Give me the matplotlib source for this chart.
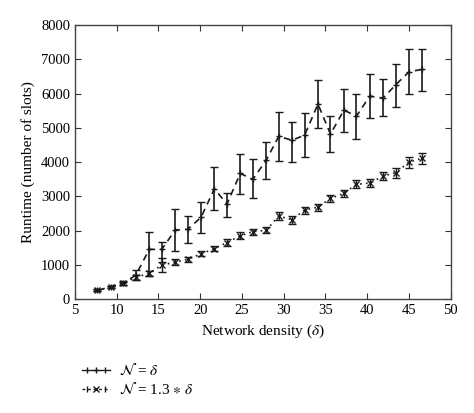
import matplotlib
matplotlib.use("Agg")
import matplotlib.pyplot as plt
from matplotlib.lines import Line2D
from matplotlib.legend_handler import HandlerLine2D, HandlerTuple

# network density values (x)
density = [7.7, 9.3, 10.8, 12.3, 13.9, 15.4, 17.0, 18.5, 20.1, 21.7, 23.2, 24.8, 26.3,
           27.9, 29.4, 31.0, 32.5, 34.1, 35.6, 37.2, 38.7, 40.3, 41.9, 43.4, 45.0, 46.5]

# N = delta : mean runtime with lower / upper ends of the error bars
run_a = [250, 360, 460, 700, 1450, 1450, 2015, 2035, 2385, 3221, 2774, 3670, 3494,
         4058, 4750, 4640, 4788, 5693, 4818, 5518, 5343, 5927, 5869, 6257, 6638, 6706]
run_a_lo = [220, 330, 400, 555, 672, 1090, 1410, 1645, 1936, 2598, 2404, 3066, 2940,
            3494, 4030, 3990, 4155, 5000, 4301, 4885, 4681, 5285, 5334, 5606, 5985, 6082]
run_a_hi = [280, 390, 520, 847, 1965, 1680, 2620, 2423, 2842, 3845, 3086, 4234, 4078,
            4594, 5450, 5177, 5420, 6385, 5343, 6122, 5985, 6560, 6414, 6852, 7290, 7308]

# N = 1.3 * delta : mean runtime and half width of error bar
run_b = [250, 360, 460, 633, 750, 990, 1075, 1158, 1320, 1470, 1650, 1845, 1970,
         2005, 2423, 2316, 2598, 2685, 2940, 3086, 3350, 3387, 3591, 3688, 4000, 4108]
run_b_err = [30, 30, 50, 70, 80, 200, 80, 80, 70, 80, 90, 100, 90,
             90, 110, 110, 100, 100, 110, 100, 120, 120, 120, 150, 160, 150]

xticks = [5, 10, 15, 20, 25, 30, 35, 40, 45, 50]
yticks = [0, 1000, 2000, 3000, 4000, 5000, 6000, 7000, 8000]

plt.rcParams["font.family"] = ["Liberation Serif", "DejaVu Serif"]
plt.rcParams["mathtext.fontset"] = "stix"

ink = "#1a1a1a"

fig = plt.figure(figsize=(4.74, 4.13), dpi=100)
ax = fig.add_axes([0.158, 0.276, 0.793, 0.663])

err_a = [[m - lo for m, lo in zip(run_a, run_a_lo)],
         [hi - m for m, hi in zip(run_a, run_a_hi)]]

ax.errorbar(density, run_a, yerr=err_a, color=ink, ecolor=ink,
            linestyle=(0, (4, 3)), linewidth=1.2, elinewidth=1.2,
            marker="+", markersize=5, capsize=3, capthick=1.0)
ax.errorbar(density, run_b, yerr=run_b_err, color=ink, ecolor=ink,
            linestyle=(0, (1, 2.5)), linewidth=1.2, elinewidth=1.0,
            marker="x", markersize=4, capsize=3, capthick=1.0)

ax.set_xlim(5, 50)
ax.set_ylim(0, 8000)
ax.set_xticks(xticks)
ax.set_yticks(yticks)
ax.tick_params(direction="in", top=True, right=True, length=4, labelsize=10.5,
               color="#333333")
for s in ax.spines.values():
    s.set_color("#444444")
    s.set_linewidth(1.0)

ax.set_xlabel(r"Network density ($\delta$)", fontsize=11)
ax.set_ylabel("Runtime (number of slots)", fontsize=11)

# legend keys drawn sideways like the original: line, centre marker, end caps
line_a = Line2D([], [], color=ink, lw=1.0, marker="+", markersize=5)
caps_a = Line2D([], [], color=ink, lw=0, marker="|", markersize=5)
line_b = Line2D([], [], color=ink, lw=1.0, linestyle=(0, (2, 2)), marker="x", markersize=4)
caps_b = Line2D([], [], color=ink, lw=0, marker="|", markersize=5)
caps_handler = HandlerLine2D(numpoints=2)

fig.legend([(line_a, caps_a), (line_b, caps_b)],
           [r"$\mathcal{N}$ = $\delta$", r"$\mathcal{N}$ = 1.3 $\ast$ $\delta$"],
           handler_map={caps_a: caps_handler, caps_b: caps_handler,
                        tuple: HandlerTuple(ndivide=1, pad=0)},
           numpoints=1, loc="upper left", bbox_to_anchor=(0.145, 0.155), frameon=False,
           fontsize=11, handlelength=1.8, handletextpad=0.6, labelspacing=0.25)

fig.savefig("out.png", dpi=100)
